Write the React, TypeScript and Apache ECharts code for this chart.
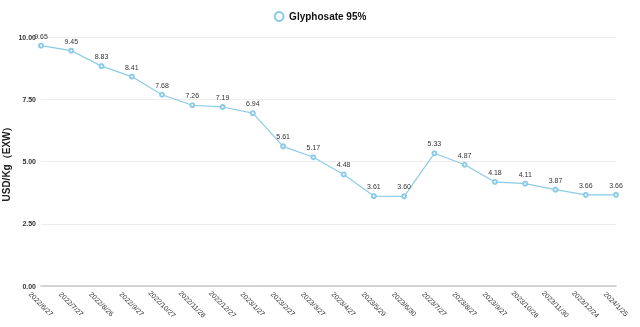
import React, { useEffect, useRef } from "react";
import * as echarts from "echarts";

const categories = [
  "2022/6/27", "2022/7/27", "2022/8/26", "2022/9/27", "2022/10/27", "2022/11/28",
  "2022/12/27", "2023/1/27", "2023/2/27", "2023/3/27", "2023/4/27", "2023/5/29",
  "2023/6/30", "2023/7/27", "2023/8/27", "2023/9/27", "2023/10/28", "2023/11/30",
  "2023/12/24", "2024/1/25",
];
const values = [
  9.65, 9.45, 8.83, 8.41, 7.68, 7.26, 7.19, 6.94, 5.61, 5.17, 4.48, 3.61, 3.6,
  5.33, 4.87, 4.18, 4.11, 3.87, 3.66, 3.66,
];
const seriesName = "Glyphosate 95%";
const yAxisName = "USD/Kg（EXW）";

export default function App() {
  const ref = useRef<HTMLDivElement>(null);
  useEffect(() => {
    const chart = echarts.init(ref.current!, undefined, { renderer: "svg" });
    const font = "Helvetica, Arial, 'Liberation Sans', sans-serif";
    chart.setOption({
      animation: false,
      textStyle: { fontFamily: font },
      legend: {
        top: 6,
        left: "center",
        itemWidth: 10,
        itemHeight: 9,
        itemGap: 6,
        icon: "emptyCircle",
        textStyle: { fontSize: 10, fontWeight: "bold", color: "#111", fontFamily: font },
        data: [seriesName],
      },
      grid: {
        left: 41,
        right: 24,
        top: 37,
        bottom: 41,
        containLabel: false,
        outerBoundsMode: "none",
      },
      xAxis: {
        type: "category",
        data: categories,
        boundaryGap: false,
        axisLine: { lineStyle: { color: "#c8c8c8", width: 1.5 } },
        axisTick: { show: false },
        axisLabel: {
          rotate: -45,
          fontSize: 7,
          color: "#333",
          margin: 18,
          align: "center",
          verticalAlign: "middle",
          interval: 0,
          fontFamily: font,
        },
      },
      yAxis: {
        type: "value",
        min: 0,
        max: 10,
        interval: 2.5,
        name: yAxisName,
        nameLocation: "middle",
        nameGap: 30,
        nameMoveOverlap: false,
        nameRotate: 90,
        nameTextStyle: { fontSize: 10, fontWeight: "bold", color: "#222", fontFamily: font },
        axisLine: { show: false },
        axisTick: { show: false },
        axisLabel: {
          fontSize: 7,
          fontWeight: "bold",
          color: "#333",
          margin: 5,
          formatter: (v: number) => v.toFixed(2),
          fontFamily: font,
        },
        splitLine: { lineStyle: { color: "#ececec", width: 1 } },
      },
      series: [
        {
          name: seriesName,
          type: "line",
          data: values,
          symbol: "emptyCircle",
          symbolSize: 4,
          itemStyle: { color: "#8ccbe8" },
          lineStyle: { color: "#8ccbe8", width: 1.2 },
          label: {
            show: true,
            position: "top",
            fontSize: 7,
            color: "#333",
            distance: 3,
            formatter: (p: any) => p.value.toFixed(2),
            fontFamily: font,
          },
        },
      ],
    });
    return () => chart.dispose();
  }, []);
  return (
    <div
      ref={ref}
      style={{ position: "fixed", left: 0, top: 0, width: 640, height: 327 }}
    />
  );
}
